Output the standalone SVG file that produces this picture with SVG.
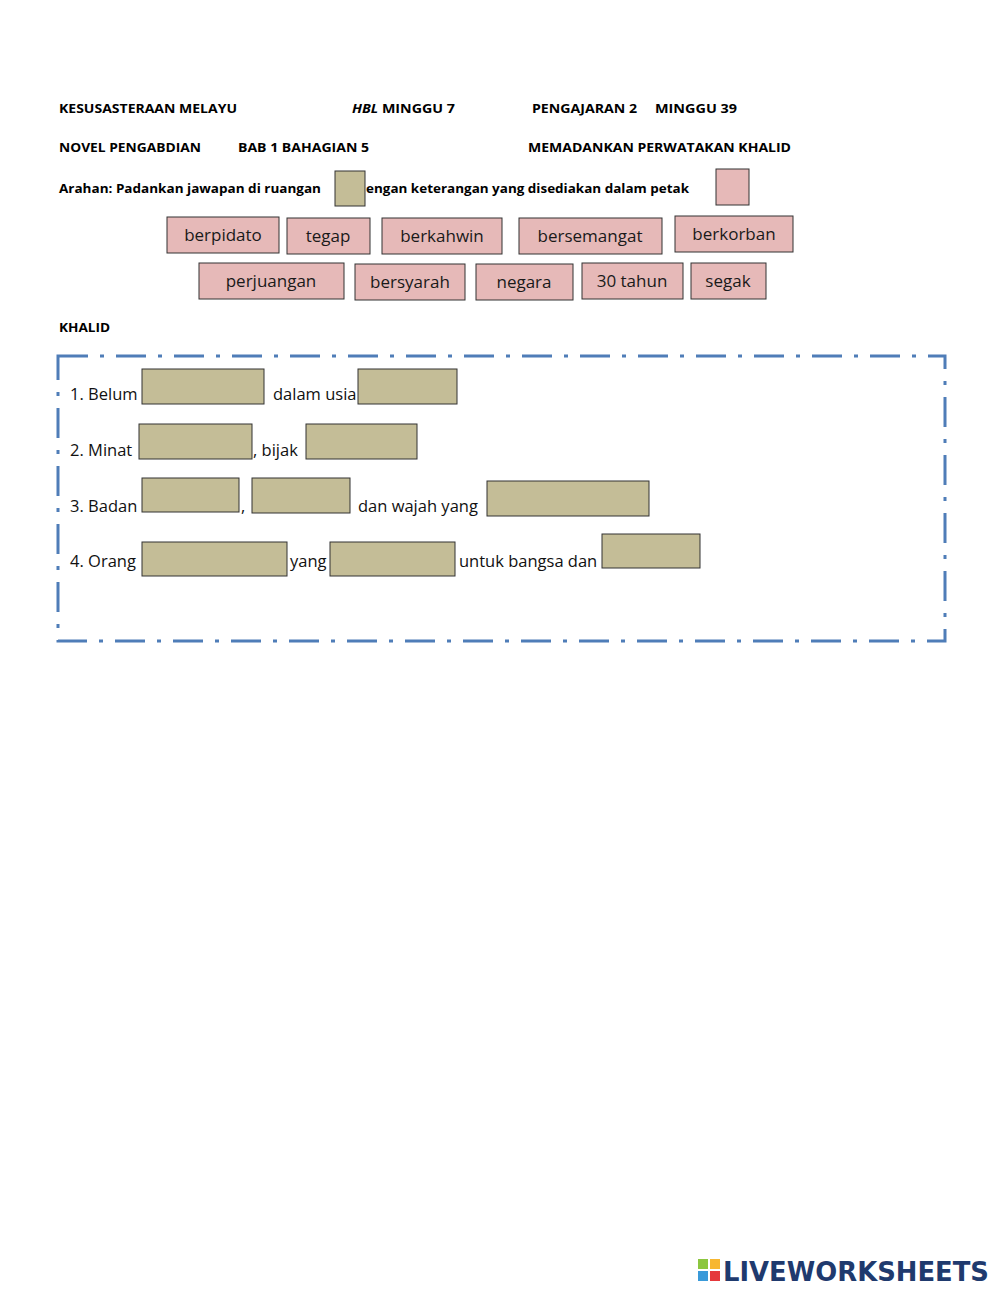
<svg xmlns="http://www.w3.org/2000/svg" width="1000" height="1291" viewBox="0 0 1000 1291">
<style>
.h{font-family:"Open Sans","Liberation Sans",sans-serif;font-weight:bold;font-size:13px;fill:#000}
.w{font-family:"Open Sans","Liberation Sans",sans-serif;font-size:17px;fill:#1a1a1a}
.t{font-family:"Open Sans","Liberation Sans",sans-serif;font-size:16.5px;fill:#111}
.p{fill:#e6b9b8;stroke:#333;stroke-width:1}
.a{fill:#c4bd97;stroke:#333;stroke-width:1}
</style>
<rect width="1000" height="1291" fill="#fff"/>
<g id="header">
<text class="h" x="59" y="113" textLength="178" lengthAdjust="spacingAndGlyphs">KESUSASTERAAN MELAYU</text>
<text class="h" x="352" y="113" textLength="103" lengthAdjust="spacingAndGlyphs"><tspan font-style="italic">HBL</tspan> MINGGU 7</text>
<text class="h" x="532" y="113" textLength="105" lengthAdjust="spacingAndGlyphs">PENGAJARAN 2</text>
<text class="h" x="655" y="113" textLength="82" lengthAdjust="spacingAndGlyphs">MINGGU 39</text>
<text class="h" x="59" y="152" textLength="142" lengthAdjust="spacingAndGlyphs">NOVEL PENGABDIAN</text>
<text class="h" x="238" y="152" textLength="131" lengthAdjust="spacingAndGlyphs">BAB 1 BAHAGIAN 5</text>
<text class="h" x="528" y="152" textLength="263" lengthAdjust="spacingAndGlyphs">MEMADANKAN PERWATAKAN KHALID</text>
<text class="h" x="59" y="193" textLength="262" lengthAdjust="spacingAndGlyphs">Arahan: Padankan jawapan di ruangan</text>
<text class="h" x="366" y="193" textLength="323" lengthAdjust="spacingAndGlyphs">engan keterangan yang disediakan dalam petak</text>
<rect class="a" x="335" y="171" width="30" height="35"/>
<rect class="p" x="716" y="169" width="33" height="36"/>
<text class="h" x="59" y="332" textLength="51" lengthAdjust="spacingAndGlyphs">KHALID</text>
</g>
<g id="chips">
<g id="c1"><rect class="p" x="167" y="217" width="112" height="36"/><text class="w" x="223" y="241" text-anchor="middle">berpidato</text></g>
<g id="c2"><rect class="p" x="287" y="218" width="83" height="36"/><text class="w" x="328" y="242" text-anchor="middle">tegap</text></g>
<g id="c3"><rect class="p" x="382" y="218" width="120" height="36"/><text class="w" x="442" y="242" text-anchor="middle">berkahwin</text></g>
<g id="c4"><rect class="p" x="519" y="218" width="143" height="36"/><text class="w" x="590" y="242" text-anchor="middle">bersemangat</text></g>
<g id="c5"><rect class="p" x="675" y="216" width="118" height="36"/><text class="w" x="734" y="240" text-anchor="middle">berkorban</text></g>
<g id="c6"><rect class="p" x="199" y="263" width="145" height="36"/><text class="w" x="271" y="287" text-anchor="middle">perjuangan</text></g>
<g id="c7"><rect class="p" x="355" y="264" width="110" height="36"/><text class="w" x="410" y="288" text-anchor="middle">bersyarah</text></g>
<g id="c8"><rect class="p" x="476" y="264" width="97" height="36"/><text class="w" x="524" y="288" text-anchor="middle">negara</text></g>
<g id="c9"><rect class="p" x="582" y="263" width="101" height="36"/><text class="w" x="632" y="287" text-anchor="middle">30 tahun</text></g>
<g id="c10"><rect class="p" x="691" y="263" width="75" height="36"/><text class="w" x="728" y="287" text-anchor="middle">segak</text></g>
</g>
<g id="frame" fill="none" stroke="#4f7db8" stroke-width="3" stroke-dasharray="30,12,4,12">
<path d="M58 356 H945 V641 H58 Z"/>
</g>
<g id="sentences">
<text class="t" x="70" y="400">1. Belum</text>
<text class="t" x="273" y="400">dalam usia</text>
<rect class="a" x="142" y="369" width="122" height="35"/>
<rect class="a" x="358" y="369" width="99" height="35"/>
<text class="t" x="70" y="456">2. Minat</text>
<text class="t" x="253" y="456">, bijak</text>
<rect class="a" x="139" y="424" width="113" height="35"/>
<rect class="a" x="306" y="424" width="111" height="35"/>
<text class="t" x="70" y="512">3. Badan</text>
<text class="t" x="241" y="512">,</text>
<text class="t" x="358" y="512">dan wajah yang</text>
<rect class="a" x="142" y="478" width="97" height="34"/>
<rect class="a" x="252" y="478" width="98" height="35"/>
<rect class="a" x="487" y="481" width="162" height="35"/>
<text class="t" x="70" y="567">4. Orang</text>
<text class="t" x="290" y="567">yang</text>
<text class="t" x="459" y="567">untuk bangsa dan</text>
<rect class="a" x="142" y="542" width="145" height="34"/>
<rect class="a" x="330" y="542" width="125" height="34"/>
<rect class="a" x="602" y="534" width="98" height="34"/>
</g>
<g id="logo">
<rect x="698" y="1259" width="10" height="10" fill="#8cc63f"/>
<rect x="710" y="1259" width="10" height="10" fill="#f7b731"/>
<rect x="698" y="1271" width="10" height="10" fill="#3a9ad9"/>
<rect x="710" y="1271" width="10" height="10" fill="#e5383b"/>
<text x="723" y="1281" font-family="'DejaVu Sans','Liberation Sans',sans-serif" font-weight="bold" font-size="27" fill="#1f3a6e" textLength="266" lengthAdjust="spacingAndGlyphs">LIVEWORKSHEETS</text>
</g>
</svg>
